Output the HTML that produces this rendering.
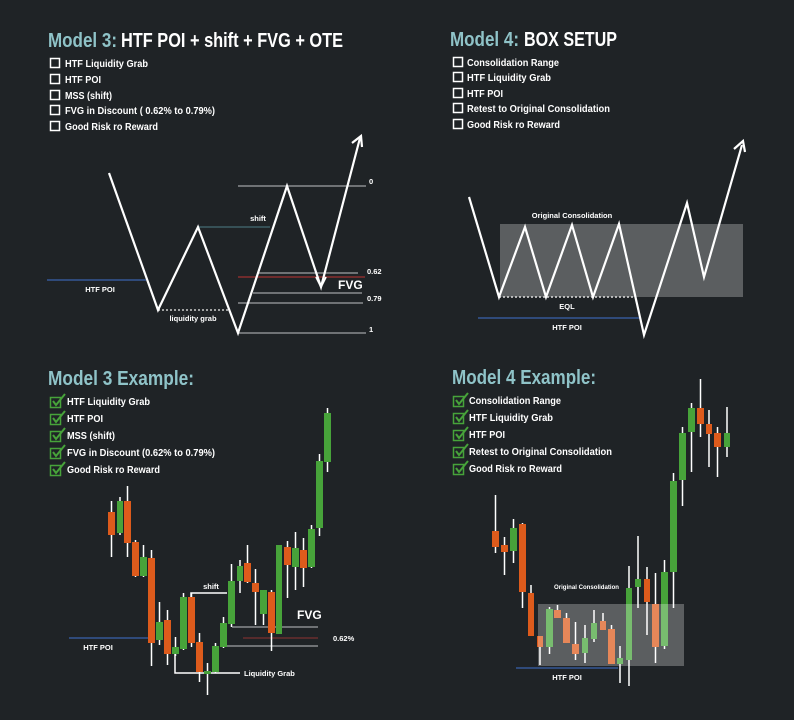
<!DOCTYPE html>
<html><head><meta charset="utf-8"><style>
html,body{margin:0;padding:0;background:#1f2326;}
svg{display:block;}
text{font-family:"Liberation Sans",sans-serif;font-weight:bold;fill:#fff;}
.t{fill:#8fc3c8;font-size:20px;}
.w{fill:#fff;font-size:20px;}
.c{font-size:10px;}
.s{font-size:7.5px;}
.o{fill:#dd5b1c;}
.g{fill:#47a33a;}
</style></head><body>
<svg width="794" height="720" viewBox="0 0 794 720" xmlns="http://www.w3.org/2000/svg">
<rect width="794" height="720" fill="#1f2326"/>

<!-- ===== TOP LEFT ===== -->
<text x="48" y="47" class="t" textLength="69" lengthAdjust="spacingAndGlyphs">Model 3:</text>
<text x="121" y="47" class="w" textLength="222" lengthAdjust="spacingAndGlyphs">HTF POI + shift + FVG + OTE</text>
<g fill="none" stroke="#fff" stroke-width="1.5">
<rect x="50.5" y="58.5" width="9" height="9"/><rect x="50.5" y="74.5" width="9" height="9"/><rect x="50.5" y="90.5" width="9" height="9"/><rect x="50.5" y="105.5" width="9" height="9"/><rect x="50.5" y="121.5" width="9" height="9"/>
</g>
<text x="65" y="67" class="c" textLength="83" lengthAdjust="spacingAndGlyphs">HTF Liquidity Grab</text>
<text x="65" y="83" class="c" textLength="36" lengthAdjust="spacingAndGlyphs">HTF POI</text>
<text x="65" y="99" class="c" textLength="47" lengthAdjust="spacingAndGlyphs">MSS (shift)</text>
<text x="65" y="114" class="c" textLength="150" lengthAdjust="spacingAndGlyphs">FVG in Discount ( 0.62% to 0.79%)</text>
<text x="65" y="130" class="c" textLength="93" lengthAdjust="spacingAndGlyphs">Good Risk ro Reward</text>

<line x1="47" y1="280" x2="146" y2="280" stroke="#2f4a7a" stroke-width="2"/>
<text x="100" y="292" class="s" text-anchor="middle">HTF POI</text>
<line x1="198" y1="227" x2="270" y2="227" stroke="#3e5f66" stroke-width="1.5"/>
<text x="258" y="221" class="s" text-anchor="middle">shift</text>
<line x1="158" y1="310" x2="228" y2="310" stroke="#ccc" stroke-width="1.5" stroke-dasharray="2,2"/>
<text x="193" y="321" class="s" text-anchor="middle">liquidity grab</text>
<g stroke="#8a8d8f" stroke-width="1.5">
<line x1="238" y1="186" x2="366" y2="186"/>
<line x1="257" y1="273" x2="358" y2="273"/>
<line x1="253" y1="293" x2="362" y2="293"/>
<line x1="238" y1="303" x2="363" y2="303"/>
<line x1="238" y1="333" x2="366" y2="333"/>
</g>
<line x1="238" y1="277" x2="365" y2="277" stroke="#8a2e2e" stroke-width="1.5"/>
<text x="369" y="184" class="s">0</text>
<text x="367" y="274" class="s">0.62</text>
<text x="367" y="301" class="s">0.79</text>
<text x="369" y="332" class="s">1</text>
<text x="338" y="289" style="font-size:12px">FVG</text>
<polyline points="109,173 158,310 198,227 238,333 287,186 321,287 360,138" fill="none" stroke="#fff" stroke-width="2.2"/>
<polyline points="352,143 361,136 362,147" fill="none" stroke="#fff" stroke-width="2.2"/>
<polyline points="316,277 321,287 326,277" fill="none" stroke="#fff" stroke-width="1.8"/>

<!-- ===== TOP RIGHT ===== -->
<text x="450" y="46" class="t" textLength="69" lengthAdjust="spacingAndGlyphs">Model 4:</text>
<text x="524" y="46" class="w" textLength="93" lengthAdjust="spacingAndGlyphs">BOX SETUP</text>
<g fill="none" stroke="#fff" stroke-width="1.5">
<rect x="453.5" y="57.5" width="9" height="9"/><rect x="453.5" y="72.5" width="9" height="9"/><rect x="453.5" y="88.5" width="9" height="9"/><rect x="453.5" y="103.5" width="9" height="9"/><rect x="453.5" y="119.5" width="9" height="9"/>
</g>
<text x="467" y="66" class="c" textLength="92" lengthAdjust="spacingAndGlyphs">Consolidation Range</text>
<text x="467" y="81" class="c" textLength="84" lengthAdjust="spacingAndGlyphs">HTF Liquidity Grab</text>
<text x="467" y="97" class="c" textLength="36" lengthAdjust="spacingAndGlyphs">HTF POI</text>
<text x="467" y="112" class="c" textLength="143" lengthAdjust="spacingAndGlyphs">Retest to Original Consolidation</text>
<text x="467" y="128" class="c" textLength="93" lengthAdjust="spacingAndGlyphs">Good Risk ro Reward</text>

<rect x="500" y="224" width="243" height="73" fill="#5b5e60"/>
<text x="572" y="218" class="s" text-anchor="middle">Original Consolidation</text>
<line x1="499" y1="297" x2="633" y2="297" stroke="#ddd" stroke-width="1.5" stroke-dasharray="2,2"/>
<text x="567" y="309" class="s" text-anchor="middle">EQL</text>
<line x1="478" y1="318" x2="640" y2="318" stroke="#2f4a7a" stroke-width="2"/>
<text x="567" y="330" class="s" text-anchor="middle">HTF POI</text>
<polyline points="469,197 499,297 525,227 546,297 572,225 593,297 619,224 644,335 687,203 704,277 742,145" fill="none" stroke="#fff" stroke-width="2.2"/>
<polyline points="734,149 743,141 745,152" fill="none" stroke="#fff" stroke-width="2.2"/>

<!-- ===== BOTTOM LEFT ===== -->
<text x="48" y="385" class="t" textLength="146" lengthAdjust="spacingAndGlyphs">Model 3 Example:</text>
<g fill="none" stroke="#47a33a" stroke-width="1.5">
<rect x="50.5" y="397.5" width="10" height="10"/><rect x="50.5" y="414.5" width="10" height="10"/><rect x="50.5" y="431.5" width="10" height="10"/><rect x="50.5" y="448.5" width="10" height="10"/><rect x="50.5" y="465.5" width="10" height="10"/>
</g>
<g fill="none" stroke="#47a33a" stroke-width="2">
<polyline points="53,401 56,405 65,394"/><polyline points="53,418 56,422 65,411"/><polyline points="53,435 56,439 65,428"/><polyline points="53,452 56,456 65,445"/><polyline points="53,469 56,473 65,462"/>
</g>
<text x="67" y="405" class="c" textLength="83" lengthAdjust="spacingAndGlyphs">HTF Liquidity Grab</text>
<text x="67" y="422" class="c" textLength="36" lengthAdjust="spacingAndGlyphs">HTF POI</text>
<text x="67" y="439" class="c" textLength="48" lengthAdjust="spacingAndGlyphs">MSS (shift)</text>
<text x="67" y="456" class="c" textLength="148" lengthAdjust="spacingAndGlyphs">FVG in Discount (0.62% to 0.79%)</text>
<text x="67" y="473" class="c" textLength="93" lengthAdjust="spacingAndGlyphs">Good Risk ro Reward</text>

<line x1="69" y1="638" x2="148" y2="638" stroke="#2f4a7a" stroke-width="2"/>
<text x="98" y="650" class="s" text-anchor="middle">HTF POI</text>
<line x1="232" y1="627" x2="318" y2="627" stroke="#8a8d8f" stroke-width="1.5"/>
<line x1="243" y1="638" x2="318" y2="638" stroke="#6a2e2e" stroke-width="1.5"/>
<line x1="222" y1="646" x2="318" y2="646" stroke="#8a8d8f" stroke-width="1.5"/>
<text x="333" y="641" class="s">0.62%</text>
<text x="297" y="619" style="font-size:12px">FVG</text>
<polyline points="191,597 191,593 227,593" fill="none" stroke="#fff" stroke-width="1.5"/>
<text x="211" y="589" class="s" text-anchor="middle">shift</text>
<polyline points="175,654 175,673 240,673" fill="none" stroke="#fff" stroke-width="1.5"/>
<text x="244" y="676" class="s">Liquidity Grab</text>

<g stroke="#fff" stroke-width="1.5">
<line x1="111.5" y1="501" x2="111.5" y2="557"/>
<line x1="120" y1="497" x2="120" y2="535"/>
<line x1="127.5" y1="486" x2="127.5" y2="557"/>
<line x1="135.5" y1="540" x2="135.5" y2="577"/>
<line x1="143.5" y1="545" x2="143.5" y2="577"/>
<line x1="151.5" y1="550" x2="151.5" y2="666"/>
<line x1="159.5" y1="602" x2="159.5" y2="645"/>
<line x1="167.5" y1="610" x2="167.5" y2="665"/>
<line x1="175.5" y1="637" x2="175.5" y2="656"/>
<line x1="183.5" y1="593" x2="183.5" y2="650"/>
<line x1="191.5" y1="593" x2="191.5" y2="647"/>
<line x1="199.5" y1="633" x2="199.5" y2="682"/>
<line x1="207.5" y1="663" x2="207.5" y2="695"/>
<line x1="215.5" y1="643" x2="215.5" y2="673"/>
<line x1="223.5" y1="617" x2="223.5" y2="648"/>
<line x1="231.5" y1="564" x2="231.5" y2="627"/>
<line x1="240" y1="560" x2="240" y2="593"/>
<line x1="247.5" y1="545" x2="247.5" y2="583"/>
<line x1="255.5" y1="569" x2="255.5" y2="625"/>
<line x1="263.5" y1="590" x2="263.5" y2="625"/>
<line x1="271.5" y1="590" x2="271.5" y2="651"/>
<line x1="279" y1="545" x2="279" y2="634"/>
<line x1="287.5" y1="541" x2="287.5" y2="598"/>
<line x1="295.5" y1="532" x2="295.5" y2="590"/>
<line x1="303.5" y1="538" x2="303.5" y2="587"/>
<line x1="311.5" y1="525" x2="311.5" y2="568"/>
<line x1="319.5" y1="454" x2="319.5" y2="536"/>
<line x1="327.5" y1="408" x2="327.5" y2="472"/>
</g>
<rect class="o" x="108" y="512" width="7" height="23"/>
<rect class="g" x="117" y="501" width="6" height="32"/>
<rect class="o" x="124" y="501" width="7" height="42"/>
<rect class="o" x="132" y="542" width="7" height="34"/>
<rect class="g" x="140" y="557" width="7" height="19"/>
<rect class="o" x="148" y="558" width="7" height="85"/>
<rect class="g" x="156" y="622" width="7" height="18"/>
<rect class="o" x="164" y="620" width="7" height="34"/>
<rect class="g" x="172" y="647" width="7" height="7"/>
<rect class="g" x="180" y="597" width="7" height="52"/>
<rect class="o" x="188" y="597" width="7" height="46"/>
<rect class="o" x="196" y="642" width="7" height="30"/>
<rect class="g" x="204" y="671" width="7" height="3"/>
<rect class="g" x="212" y="646" width="7" height="26"/>
<rect class="g" x="220" y="623" width="7" height="24"/>
<rect class="g" x="228" y="581" width="7" height="43"/>
<rect class="g" x="237" y="566" width="6" height="15"/>
<rect class="o" x="244" y="563" width="7" height="19"/>
<rect class="o" x="252" y="583" width="7" height="9"/>
<rect class="g" x="260" y="590" width="7" height="24"/>
<rect class="o" x="268" y="592" width="7" height="41"/>
<rect class="g" x="276" y="545" width="6" height="89"/>
<rect class="o" x="284" y="547" width="7" height="18"/>
<rect class="g" x="292" y="548" width="7" height="19"/>
<rect class="o" x="300" y="550" width="7" height="18"/>
<rect class="g" x="308" y="529" width="7" height="38"/>
<rect class="g" x="316" y="461" width="7" height="67"/>
<rect class="g" x="324" y="413" width="7" height="49"/>

<!-- ===== BOTTOM RIGHT ===== -->
<text x="452" y="384" class="t" textLength="144" lengthAdjust="spacingAndGlyphs">Model 4 Example:</text>
<g fill="none" stroke="#47a33a" stroke-width="1.5">
<rect x="453.5" y="396.5" width="10" height="10"/><rect x="453.5" y="413.5" width="10" height="10"/><rect x="453.5" y="430.5" width="10" height="10"/><rect x="453.5" y="447.5" width="10" height="10"/><rect x="453.5" y="464.5" width="10" height="10"/>
</g>
<g fill="none" stroke="#47a33a" stroke-width="2">
<polyline points="456,400 459,404 468,393"/><polyline points="456,417 459,421 468,410"/><polyline points="456,434 459,438 468,427"/><polyline points="456,451 459,455 468,444"/><polyline points="456,468 459,472 468,461"/>
</g>
<text x="469" y="404" class="c" textLength="92" lengthAdjust="spacingAndGlyphs">Consolidation Range</text>
<text x="469" y="421" class="c" textLength="84" lengthAdjust="spacingAndGlyphs">HTF Liquidity Grab</text>
<text x="469" y="438" class="c" textLength="36" lengthAdjust="spacingAndGlyphs">HTF POI</text>
<text x="469" y="455" class="c" textLength="143" lengthAdjust="spacingAndGlyphs">Retest to Original Consolidation</text>
<text x="469" y="472" class="c" textLength="93" lengthAdjust="spacingAndGlyphs">Good Risk ro Reward</text>

<line x1="516" y1="668" x2="618" y2="668" stroke="#2f4a7a" stroke-width="2"/>
<text x="567" y="680" class="s" text-anchor="middle">HTF POI</text>
<text x="554" y="589" style="font-size:6.5px" textLength="65" lengthAdjust="spacingAndGlyphs">Original Consolidation</text>

<g stroke="#fff" stroke-width="1.5">
<line x1="495.5" y1="495" x2="495.5" y2="553"/>
<line x1="504.5" y1="537" x2="504.5" y2="575"/>
<line x1="513.5" y1="519" x2="513.5" y2="563"/>
<line x1="522.5" y1="523" x2="522.5" y2="608"/>
<line x1="531" y1="585" x2="531" y2="636"/>
<line x1="540" y1="636" x2="540" y2="665"/>
<line x1="549.5" y1="607" x2="549.5" y2="654"/>
<line x1="557.5" y1="605" x2="557.5" y2="618"/>
<line x1="566.5" y1="613" x2="566.5" y2="643"/>
<line x1="575.5" y1="622" x2="575.5" y2="660"/>
<line x1="585" y1="625" x2="585" y2="663"/>
<line x1="594" y1="610" x2="594" y2="642"/>
<line x1="603" y1="613" x2="603" y2="630"/>
<line x1="611.5" y1="625" x2="611.5" y2="664"/>
<line x1="620" y1="646" x2="620" y2="683"/>
<line x1="629" y1="566" x2="629" y2="686"/>
<line x1="638" y1="536" x2="638" y2="608"/>
<line x1="647" y1="567" x2="647" y2="635"/>
<line x1="655.5" y1="573" x2="655.5" y2="663"/>
<line x1="664.5" y1="560" x2="664.5" y2="649"/>
<line x1="673.5" y1="473" x2="673.5" y2="608"/>
<line x1="682.5" y1="427" x2="682.5" y2="506"/>
<line x1="691.5" y1="403" x2="691.5" y2="472"/>
<line x1="700.5" y1="379" x2="700.5" y2="437"/>
<line x1="709" y1="410" x2="709" y2="467"/>
<line x1="717.5" y1="427" x2="717.5" y2="477"/>
<line x1="727" y1="407" x2="727" y2="457"/>
</g>
<rect class="o" x="492" y="531" width="7" height="16"/>
<rect class="o" x="501" y="545" width="7" height="7"/>
<rect class="g" x="510" y="528" width="7" height="23"/>
<rect class="o" x="519" y="524" width="7" height="68"/>
<rect class="o" x="528" y="593" width="6" height="43"/>
<rect class="o" x="537" y="636" width="6" height="11"/>
<rect class="g" x="546" y="609" width="7" height="38"/>
<rect class="o" x="554" y="610" width="7" height="8"/>
<rect class="o" x="563" y="618" width="7" height="25"/>
<rect class="o" x="572" y="644" width="7" height="10"/>
<rect class="g" x="582" y="638" width="6" height="15"/>
<rect class="g" x="591" y="623" width="6" height="16"/>
<rect class="o" x="600" y="621" width="6" height="9"/>
<rect class="o" x="608" y="629" width="7" height="35"/>
<rect class="g" x="617" y="658" width="6" height="6"/>
<rect class="g" x="626" y="588" width="6" height="72"/>
<rect class="g" x="635" y="579" width="6" height="8"/>
<rect class="o" x="644" y="579" width="6" height="23"/>
<rect class="o" x="652" y="604" width="7" height="43"/>
<rect class="g" x="661" y="572" width="7" height="74"/>
<rect class="g" x="670" y="481" width="7" height="91"/>
<rect class="g" x="679" y="433" width="7" height="47"/>
<rect class="g" x="688" y="408" width="7" height="24"/>
<rect class="o" x="697" y="408" width="7" height="16"/>
<rect class="o" x="706" y="424" width="6" height="10"/>
<rect class="o" x="714" y="433" width="7" height="14"/>
<rect class="g" x="724" y="433" width="6" height="14"/>
<rect x="538" y="604" width="146" height="62" fill="#fff" fill-opacity="0.27"/>
</svg>
</body></html>
